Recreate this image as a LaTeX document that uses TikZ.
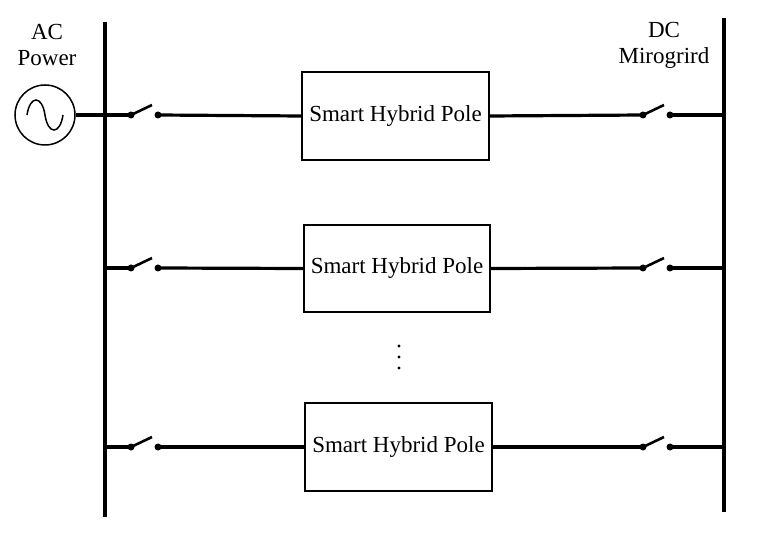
\documentclass[tikz,border=0pt]{standalone}
\usepackage{fontspec}
\setmainfont{Liberation Serif}
\begin{document}
\begin{tikzpicture}[x=1pt,y=-1pt,
  bus/.style={line width=4pt},
  wire/.style={line width=3.2pt},
  blade/.style={line width=2.6pt},
  dot/.style={circle,fill=black,inner sep=0pt,minimum size=7pt},
  box/.style={draw,line width=1.3pt,inner sep=0pt,font=\fontsize{23}{25}\selectfont},
  lbl/.style={align=center,font=\fontsize{23}{26}\selectfont}]
\useasboundingbox (0,0) rectangle (780,540);
\coordinate (lt) at (105,22); \coordinate (lb) at (105,517);
\coordinate (rt) at (724,18); \coordinate (rb) at (724,512);
\draw[bus] (lt) -- (lb);
\draw[bus] (rt) -- (rb);
\node[draw,circle,line width=1.5pt,minimum size=60pt,inner sep=0pt] (src) at (45,115) {};
\draw[line width=1.5pt] (27,115) .. controls (30,95) and (42,95) .. (45,115) .. controls (48,135) and (60,135) .. (63,115);
\node[lbl] (ac) at (47,45) {AC\\Power};
\node[lbl] (dc) at (664,45) {DC\\Mirogrird};
\node[box,minimum width=187pt,minimum height=88pt] (b1) at (395.5,116) {Smart Hybrid Pole};
\node[box,minimum width=186pt,minimum height=87pt] (b2) at (397,268.5) {Smart Hybrid Pole};
\node[box,minimum width=187pt,minimum height=88pt] (b3) at (398.5,447) {Smart Hybrid Pole};
\coordinate (l1) at (105,115); \coordinate (l2) at (105,268); \coordinate (l3) at (105,447);
\coordinate (r1) at (724,115); \coordinate (r2) at (724,268); \coordinate (r3) at (724,447);
\draw[wire] (src) -- (l1);
\foreach \i/\y in {1/115,2/268,3/447}{
  \node[dot] (a\i) at (131,\y) {};
  \node[dot] (c\i) at (158,\y) {};
  \node[dot] (d\i) at (643,\y) {};
  \node[dot] (e\i) at (670,\y) {};
  \draw[wire] (l\i) -- (a\i.center);
  \draw[blade] (a\i.center) -- ++(21,-10);
  \draw[wire] (c\i.center) -- (b\i.west);
  \draw[wire] (b\i.east) -- (d\i.center);
  \draw[blade] (d\i.center) -- ++(21,-10);
  \draw[wire] (e\i.center) -- (r\i);
}
\foreach \y in {346,357,368} \fill (399,\y) circle (1.6pt);
\end{tikzpicture}
\end{document}
